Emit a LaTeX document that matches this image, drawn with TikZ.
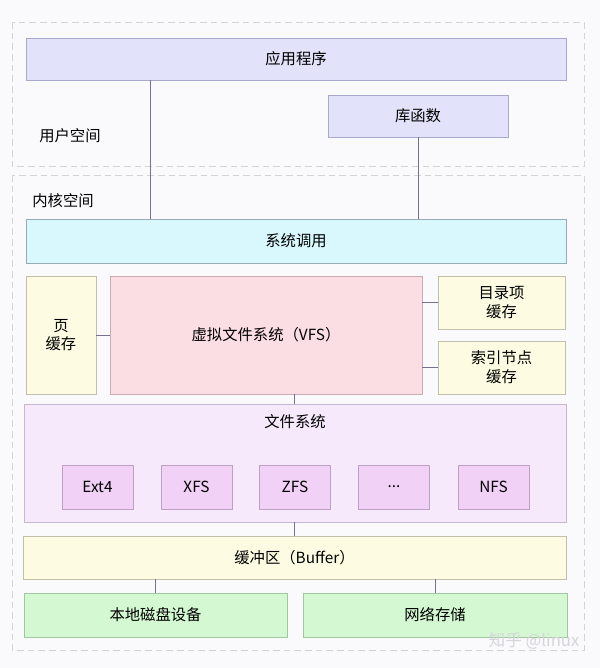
\documentclass[tikz,border=0pt]{standalone}
\usepackage{fontspec}
\setmainfont{Noto Sans CJK SC}
\usepackage{xcolor}
\usepackage{tikz}

\definecolor{pagebg}{RGB}{250,250,252}
\definecolor{zoneline}{RGB}{212,212,212}
\definecolor{linkc}{RGB}{120,112,140}
\definecolor{appfill}{RGB}{226,227,250}
\definecolor{appline}{RGB}{168,168,208}
\definecolor{sysfill}{RGB}{216,248,253}
\definecolor{sysline}{RGB}{150,170,184}
\definecolor{cachefill}{RGB}{253,252,226}
\definecolor{cacheline}{RGB}{192,192,172}
\definecolor{vfsfill}{RGB}{250,222,227}
\definecolor{vfsline}{RGB}{204,172,178}
\definecolor{fsfill}{RGB}{246,233,252}
\definecolor{fsline}{RGB}{200,182,212}
\definecolor{typefill}{RGB}{242,209,246}
\definecolor{typeline}{RGB}{190,160,196}
\definecolor{devfill}{RGB}{212,248,210}
\definecolor{devline}{RGB}{160,198,162}
\definecolor{markc}{RGB}{214,214,218}

\newcommand\pxu{0.75pt}

\begin{document}
\begin{tikzpicture}[x=0.75pt,y=-0.75pt,
  every node/.style={font=\fontsize{11.5}{14}\selectfont},
  blk/.style={draw, line width=0.6pt, align=center, inner sep=0pt},
  appbox/.style={blk, fill=appfill, draw=appline},
  sysbox/.style={blk, fill=sysfill, draw=sysline},
  cachebox/.style={blk, fill=cachefill, draw=cacheline},
  vfsbox/.style={blk, fill=vfsfill, draw=vfsline},
  fsbox/.style={blk, fill=fsfill, draw=fsline},
  typebox/.style={blk, fill=typefill, draw=typeline, minimum width=71*\pxu, minimum height=44*\pxu},
  devbox/.style={blk, fill=devfill, draw=devline, minimum height=44*\pxu},
  zone/.style={draw=zoneline, dashed, dash pattern=on 5pt off 3pt, line width=0.6pt},
  link/.style={draw=linkc, line width=0.5pt}]
\fill[pagebg] (0,0) rectangle (600,668);
\useasboundingbox (0,0) rectangle (600,668);
% user / kernel space
\draw[zone] (12,22) rectangle (584,166);
\draw[zone] (12,175) rectangle (584,650);
\node (userlbl) at (70,136) {用户空间};
\node (kernlbl) at (63,201) {内核空间};
% user space
\node[appbox, minimum width=540*\pxu, minimum height=42*\pxu] (app) at (296,59) {应用程序};
\node[appbox, minimum width=180*\pxu, minimum height=42*\pxu] (lib) at (418,116) {库函数};
% kernel
\node[sysbox, minimum width=540*\pxu, minimum height=44*\pxu] (sys) at (296,241) {系统调用};
\node[cachebox, minimum width=70*\pxu, minimum height=118*\pxu] (page) at (61,335) {页\\缓存};
\node[vfsbox, minimum width=312*\pxu, minimum height=118*\pxu] (vfs) at (266,335) {虚拟文件系统（VFS）};
\node[cachebox, minimum width=127*\pxu, minimum height=53*\pxu] (dent) at (501.5,302.5) {目录项\\缓存};
\node[cachebox, minimum width=127*\pxu, minimum height=53*\pxu] (inode) at (501.5,367.5) {索引节点\\缓存};
\node[fsbox, minimum width=542*\pxu, minimum height=118*\pxu] (fs) at (295,463) {};
\node (fslbl) at (295,422) {文件系统};
\node[typebox] (ext) at (97.5,487) {Ext4};
\node[typebox] (xfs) at (196.5,487) {XFS};
\node[typebox] (zfs) at (295,487) {ZFS};
\node[typebox] (etc) at (394,487) {...};
\node[typebox] (nfs) at (493.5,487) {NFS};
\node[cachebox, minimum width=543*\pxu, minimum height=43*\pxu] (buf) at (294.5,557.5) {缓冲区（Buffer）};
\node[devbox, minimum width=263*\pxu] (local) at (155.5,615) {本地磁盘设备};
\node[devbox, minimum width=264*\pxu] (net) at (435,615) {网络存储};
\node[text=markc, font=\fontsize{12.5}{14}\selectfont] (mark) at (534,641) {知乎 @linux};
% connectors
\coordinate (appx) at (150,0);
\coordinate (midx) at (294,0);
\draw[link] (app.south -| appx) -- (sys.north -| appx);
\draw[link] (lib.south) -- (lib.south |- sys.north);
\draw[link] (page.east) -- (page.east -| vfs.west);
\draw[link] (dent.west) -- (dent.west -| vfs.east);
\draw[link] (inode.west) -- (inode.west -| vfs.east);
\draw[link] (vfs.south -| midx) -- (fs.north -| midx);
\draw[link] (fs.south -| midx) -- (buf.north -| midx);
\draw[link] (local.north) -- (local.north |- buf.south);
\draw[link] (net.north) -- (net.north |- buf.south);
\end{tikzpicture}
\end{document}
